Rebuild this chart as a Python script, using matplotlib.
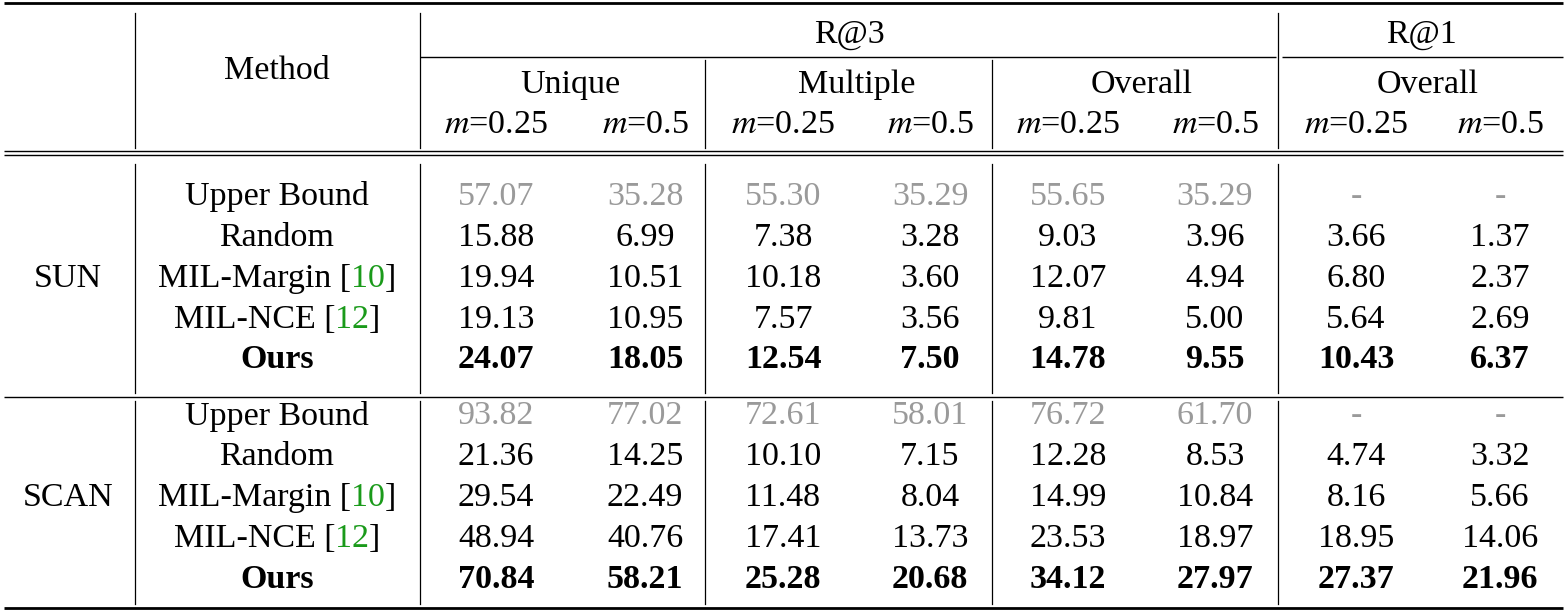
import matplotlib
matplotlib.use("Agg")
import matplotlib.pyplot as plt

plt.rcParams['font.family'] = ['Liberation Serif', 'DejaVu Serif']
plt.rcParams['mathtext.fontset'] = 'stix'

datasets = ["SUN", "SCAN"]
methods = ["Upper Bound", "Random", "MIL-Margin", "MIL-NCE", "Ours"]
cites = [None, None, "10", "12", None]
groups = ["Unique", "Multiple", "Overall", "Overall"]
thresholds = ["0.25", "0.5"]
sun = [
    ["57.07", "35.28", "55.30", "35.29", "55.65", "35.29", "-", "-"],
    ["15.88", "6.99", "7.38", "3.28", "9.03", "3.96", "3.66", "1.37"],
    ["19.94", "10.51", "10.18", "3.60", "12.07", "4.94", "6.80", "2.37"],
    ["19.13", "10.95", "7.57", "3.56", "9.81", "5.00", "5.64", "2.69"],
    ["24.07", "18.05", "12.54", "7.50", "14.78", "9.55", "10.43", "6.37"],
]
scan = [
    ["93.82", "77.02", "72.61", "58.01", "76.72", "61.70", "-", "-"],
    ["21.36", "14.25", "10.10", "7.15", "12.28", "8.53", "4.74", "3.32"],
    ["29.54", "22.49", "11.48", "8.04", "14.99", "10.84", "8.16", "5.66"],
    ["48.94", "40.76", "17.41", "13.73", "23.53", "18.97", "18.95", "14.06"],
    ["70.84", "58.21", "25.28", "20.68", "34.12", "27.97", "27.37", "21.96"],
]

W, H = 1567, 613
fig = plt.figure(figsize=(W/100, H/100), dpi=100)
ax = fig.add_axes([0, 0, 1, 1])
ax.set_xlim(0, W); ax.set_ylim(H, 0); ax.axis('off')
FS = 24.5
GRAY = '#9a9a9a'
GREEN = '#1a9a1a'

def hl(y, x0=4, x1=1563, lw=1.0):
    ax.plot([x0, x1], [y, y], color='black', lw=lw, solid_capstyle='butt')
def vl(x, y0, y1):
    ax.plot([x, x], [y0, y1], color='black', lw=0.9)

hl(3, lw=2.0); hl(608, lw=2.0)
hl(151); hl(155); hl(397)
hl(57, 420, 1276); hl(57, 1282, 1563)
for x in [135, 420, 1278]:
    vl(x, 13, 148); vl(x, 164, 393); vl(x, 401, 604)
for x in [705, 992]:
    vl(x, 60, 148); vl(x, 164, 393); vl(x, 401, 604)

colx = [496, 645, 783, 930, 1068, 1215, 1356, 1500]
ax.text(277, 71, "Method", fontsize=FS, ha='center', va='center')
ax.text(849, 35, "R@3", fontsize=FS, ha='center', va='center')
ax.text(1421, 35, "R@1", fontsize=FS, ha='center', va='center')
for i, g in enumerate(groups):
    ax.text((colx[2*i] + colx[2*i+1]) / 2, 85, g, fontsize=FS, ha='center', va='center')
for j, x in enumerate(colx):
    ax.text(x, 125, "$m$=" + thresholds[j % 2], fontsize=FS, ha='center', va='center')

fig.canvas.draw()
r = fig.canvas.get_renderer()

def method_text(xc, y, name, cite, bold):
    w = 'bold' if bold else 'normal'
    if cite is None:
        ax.text(xc, y, name, fontsize=FS, ha='center', va='center', fontweight=w)
        return
    parts = [(name + " [", 'black'), (cite, GREEN), ("]", 'black')]
    ts = [ax.text(0, y, p, fontsize=FS, va='center', color=c) for p, c in parts]
    ws = [t.get_window_extent(r).width for t in ts]
    x = xc - sum(ws) / 2
    for t, wd in zip(ts, ws):
        t.set_x(x); x += wd

row_y = [[197, 238, 279, 320, 360], [416, 457, 498, 539, 580]]
for d, (name, data) in enumerate(zip(datasets, [sun, scan])):
    ax.text(68, row_y[d][2], name, fontsize=FS, ha='center', va='center')
    for i, m in enumerate(methods):
        y = row_y[d][i]
        bold = (m == "Ours")
        method_text(277, y, m, cites[i], bold)
        for j, v in enumerate(data[i]):
            ax.text(colx[j], y, v, fontsize=FS, ha='center', va='center',
                    color=GRAY if i == 0 else 'black',
                    fontweight='bold' if bold else 'normal')

fig.savefig("out.png", dpi=100)
